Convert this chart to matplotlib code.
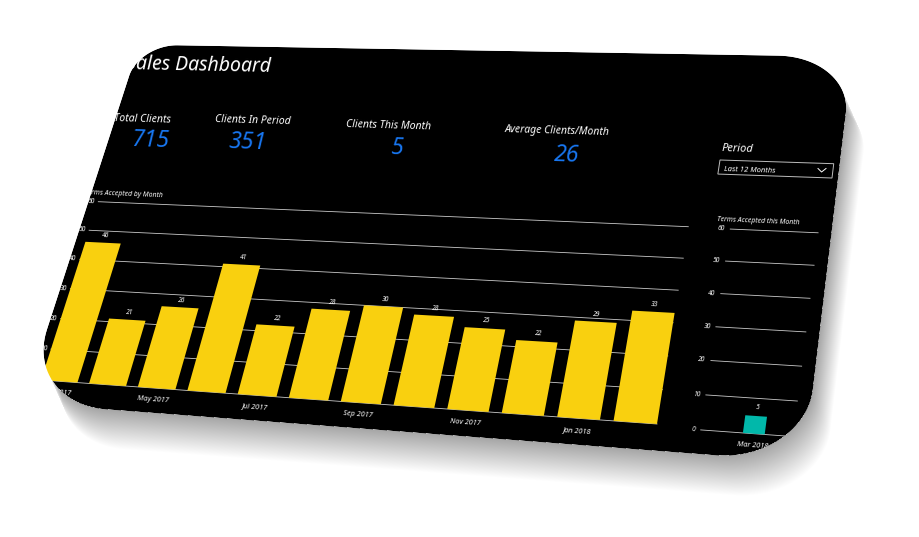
import numpy as np
import matplotlib
matplotlib.use("Agg")
import matplotlib.pyplot as plt
from matplotlib.transforms import Transform, Affine2D
from matplotlib.patches import Polygon, PathPatch
from matplotlib.path import Path

plt.rcParams['font.family'] = ['Noto Sans', 'DejaVu Sans']

# ---------------- data ----------------
title = 'Sales Dashboard'
kpi_labels = ['Total Clients', 'Clients In Period', 'Clients This Month', 'Average Clients/Month']
kpi_values = ['715', '351', '5', '26']
months = ['Mar 2017', 'Apr 2017', 'May 2017', 'Jun 2017', 'Jul 2017', 'Aug 2017',
          'Sep 2017', 'Oct 2017', 'Nov 2017', 'Dec 2017', 'Jan 2018', 'Feb 2018']
terms_by_month = [46, 21, 26, 41, 22, 28, 30, 28, 25, 22, 29, 33]
this_month = ['Mar 2018']
terms_this_month = [5]
y_ticks = [0, 10, 20, 30, 40, 50, 60]
chart_titles = ['Terms Accepted by Month', 'Terms Accepted this Month']
period_label = 'Period'
period_value = 'Last 12 Months'

BAR = '#F9D00F'
TEAL = '#01B8AA'
BLUE = '#1877F2'
GRID = '#C8C8C8'


# ---------------- perspective helpers ----------------
def homography(src, dst):
    A, b = [], []
    for (u, v), (x, y) in zip(src, dst):
        A.append([u, v, 1, 0, 0, 0, -u * x, -v * x]); b.append(x)
        A.append([0, 0, 0, u, v, 1, -u * y, -v * y]); b.append(y)
    h = np.linalg.solve(np.array(A, float), np.array(b, float))
    return np.append(h, 1).reshape(3, 3)


def apply(M, pts):
    pts = np.atleast_2d(np.asarray(pts, float))
    p = np.c_[pts, np.ones(len(pts))] @ M.T
    return p[:, :2] / p[:, 2:3]


class Persp(Transform):
    input_dims = 2
    output_dims = 2
    is_separable = False
    has_inverse = True

    def __init__(self, M):
        super().__init__()
        self.M = M

    def transform_non_affine(self, values):
        return apply(self.M, values)

    def inverted(self):
        return Persp(np.linalg.inv(self.M))


# flat dashboard plane -> picture pixels (main plot area corners)
H = homography([(100, 200), (700, 200), (700, 420), (100, 420)],
               [(98.3, 201.7), (688.3, 226.7), (657, 424), (41, 380)])
Hi = np.linalg.inv(H)


def flat(x, y):
    return apply(Hi, [(x, y)])[0]


fig = plt.figure(figsize=(9.2, 5.37), dpi=100)
fig.patch.set_facecolor('white')
cv = fig.add_axes([0, 0, 1, 1])
cv.set_xlim(0, 920); cv.set_ylim(537, 0); cv.set_axis_off()
PT = Persp(H) + cv.transData


def angle(T, x, y, dx):
    a = T.transform([(x, y), (x + dx, y)])
    return np.degrees(np.arctan2(a[1, 1] - a[0, 1], a[1, 0] - a[0, 0]))


def ptext(ax, T, x, y, s, size, color='white', ha='center', dx=1.0, **kw):
    r = angle(T, x, y, dx)
    return ax.text(x, y, s, transform=T, rotation=r, rotation_mode='anchor',
                   ha=ha, va='center', fontsize=size, color=color,
                   style='italic', clip_on=False, **kw)


def itext(x, y, s, size, **kw):
    u, v = flat(x, y)
    return ptext(cv, PT, u, v, s, size, **kw)


# ---------------- panel ----------------
pc = apply(Hi, [(141, 45.5), (854, 56), (803, 460), (26, 405)])
uL = (pc[0, 0] + pc[3, 0]) / 2 - 3
uR = (pc[1, 0] + pc[2, 0]) / 2
vT = (pc[0, 1] + pc[1, 1]) / 2
vB = (pc[2, 1] + pc[3, 1]) / 2


def rrect(u0, v0, u1, v1, r):
    def arc(cx, cy, rad, a0, a1):
        t = np.radians(np.linspace(a0, a1, 30))
        return np.c_[cx + rad * np.cos(t), cy + rad * np.sin(t)]
    return np.vstack([arc(u0 + r[0], v0 + r[0], r[0], 180, 270),
                      arc(u1 - r[1], v0 + r[1], r[1], 270, 360),
                      arc(u1 - r[2], v1 - r[2], r[2], 0, 90),
                      arc(u0 + r[3], v1 - r[3], r[3], 90, 180)])


panel_img = apply(H, rrect(uL, vT, uR, vB, (44, 70, 75, 87)))
cv.add_patch(Polygon(panel_img, closed=True, fc='black', ec='none', zorder=0))

# ---------------- title & KPI cards ----------------
itext(126, 64, title, 14, ha='left')
kpi_label_pos = [(142, 119), (253, 121), (389, 126), (557, 131)]
kpi_value_pos = [(150, 141), (248, 143), (397, 148), (567, 155)]
for s, (x, y) in zip(kpi_labels, kpi_label_pos):
    itext(x, y, s, 7.5)
for s, (x, y) in zip(kpi_values, kpi_value_pos):
    itext(x, y, s, 16.5, color=BLUE)

# ---------------- main bar chart ----------------
def chart_tf(axh, rect):
    u0, v0, u1, v1 = rect
    A = Affine2D().scale(u1 - u0, -(v1 - v0)).translate(u0, v1)
    return axh.transScale + axh.transLimits + A + Persp(H) + cv.transData


bx = fig.add_axes([0, 0, 1, 1], zorder=2)
bx.set_axis_off(); bx.patch.set_visible(False)
bx.set_xlim(-0.38, 11.38); bx.set_ylim(0, 60); bx.set_autoscale_on(False)
TB = chart_tf(bx, (100, 200, 700, 420))
xs = np.arange(len(months))
x0, x1 = bx.get_xlim()
for t in y_ticks:
    bx.plot([x0, x1], [t, t], color=GRID, lw=0.6, transform=TB, clip_on=False, zorder=1)
    ptext(bx, TB, x0 - 0.07, t, str(t), 4.8, ha='right', dx=0.1)
bars = bx.bar(xs, terms_by_month, width=0.76, color=BAR, zorder=2)
for p in bars.patches:
    p.set_transform(TB)
    p.set_clip_on(False)
for i, v in zip(xs, terms_by_month):
    ptext(bx, TB, i, v + 2.3, str(v), 4.8, dx=0.1)
for i in xs[::2]:
    ptext(bx, TB, i, -3.6, months[i], 5.3, dx=0.1)
u_t, v_t = flat(84, 192.5)
ptext(cv, PT, u_t, v_t, chart_titles[0], 5.0, ha='left')

# ---------------- this month chart ----------------
a = flat(729, 229); b = flat(702, 430); c = flat(754, 432)
ru0 = (a[0] + b[0]) / 2
ru1 = 2 * c[0] - ru0
rx = fig.add_axes([0, 0, 1, 1], zorder=3)
rx.set_axis_off(); rx.patch.set_visible(False)
rx.set_xlim(-0.5, 0.5); rx.set_ylim(0, 60); rx.set_autoscale_on(False)
TR = chart_tf(rx, (ru0, a[1], ru1, b[1]))
xend = (uR - 12 - ru0) / (ru1 - ru0) - 0.5
for t in y_ticks:
    rx.plot([-0.5, xend], [t, t], color=GRID, lw=0.6, transform=TR, clip_on=False, zorder=1)
    ptext(rx, TR, -0.55, t, str(t), 4.8, ha='right', dx=0.05)
wb = (flat(765, 433)[0] - flat(743, 433)[0]) / (ru1 - ru0)
rbars = rx.bar(np.arange(len(this_month)), terms_this_month, width=wb, color=TEAL, zorder=2)
for p in rbars.patches:
    p.set_transform(TR)
    p.set_clip_on(False)
for i, v in enumerate(terms_this_month):
    ptext(rx, TR, i, v + 2.3, str(v), 4.8, dx=0.05)
    ptext(rx, TR, i, -3.2, this_month[i], 5.3, dx=0.05)
itext(717, 220, chart_titles[1], 5.0, ha='left')

# ---------------- period slicer ----------------
itext(722, 149, period_label, 8, ha='left')
p0 = flat(720, 160); p1 = flat(832, 178)
box = np.array([(p0[0], p0[1]), (p1[0], p0[1]), (p1[0], p1[1]), (p0[0], p1[1])])
cv.add_patch(Polygon(box, closed=True, fc='none', ec='#BDBDBD', lw=0.7,
                     transform=PT, zorder=3))
itext(724, 169.5, period_value, 5.5, ha='left')
q0 = flat(818, 168.5); q1 = flat(826, 168.5)
qm = ((q0[0] + q1[0]) / 2, q0[1] + 4)
cv.plot([q0[0], qm[0], q1[0]], [q0[1], qm[1], q1[1]], color='white', lw=0.7,
        transform=PT, zorder=3)

# ---------------- outside mask & shadow ----------------
ov = fig.add_axes([0, 0, 1, 1], zorder=10)
ov.set_xlim(0, 920); ov.set_ylim(537, 0); ov.set_axis_off(); ov.patch.set_visible(False)


def area(p):
    return 0.5 * np.sum(p[:, 0] * np.roll(p[:, 1], -1) - np.roll(p[:, 0], -1) * p[:, 1])


def holed(outer, hole):
    if np.sign(area(outer)) == np.sign(area(hole)):
        hole = hole[::-1]
    verts = np.vstack([outer, outer[:1], hole, hole[:1]])
    codes = ([Path.MOVETO] + [Path.LINETO] * (len(outer) - 1) + [Path.CLOSEPOLY] +
             [Path.MOVETO] + [Path.LINETO] * (len(hole) - 1) + [Path.CLOSEPOLY])
    return Path(verts, codes)


frame = np.array([(-20, -20), (940, -20), (940, 560), (-20, 560)], float)
mask = PathPatch(holed(frame, panel_img), fc='white', ec='none', zorder=1)
ov.add_patch(mask)
for k in range(1, 90):
    sh = panel_img + np.array([0.2 * k, 0.45 * k])
    sp = Polygon(sh, closed=True, fc='black', ec='none', alpha=0.0055, zorder=2)
    ov.add_patch(sp)
    sp.set_clip_path(mask)

fig.savefig('out.png', dpi=100, facecolor='white')
